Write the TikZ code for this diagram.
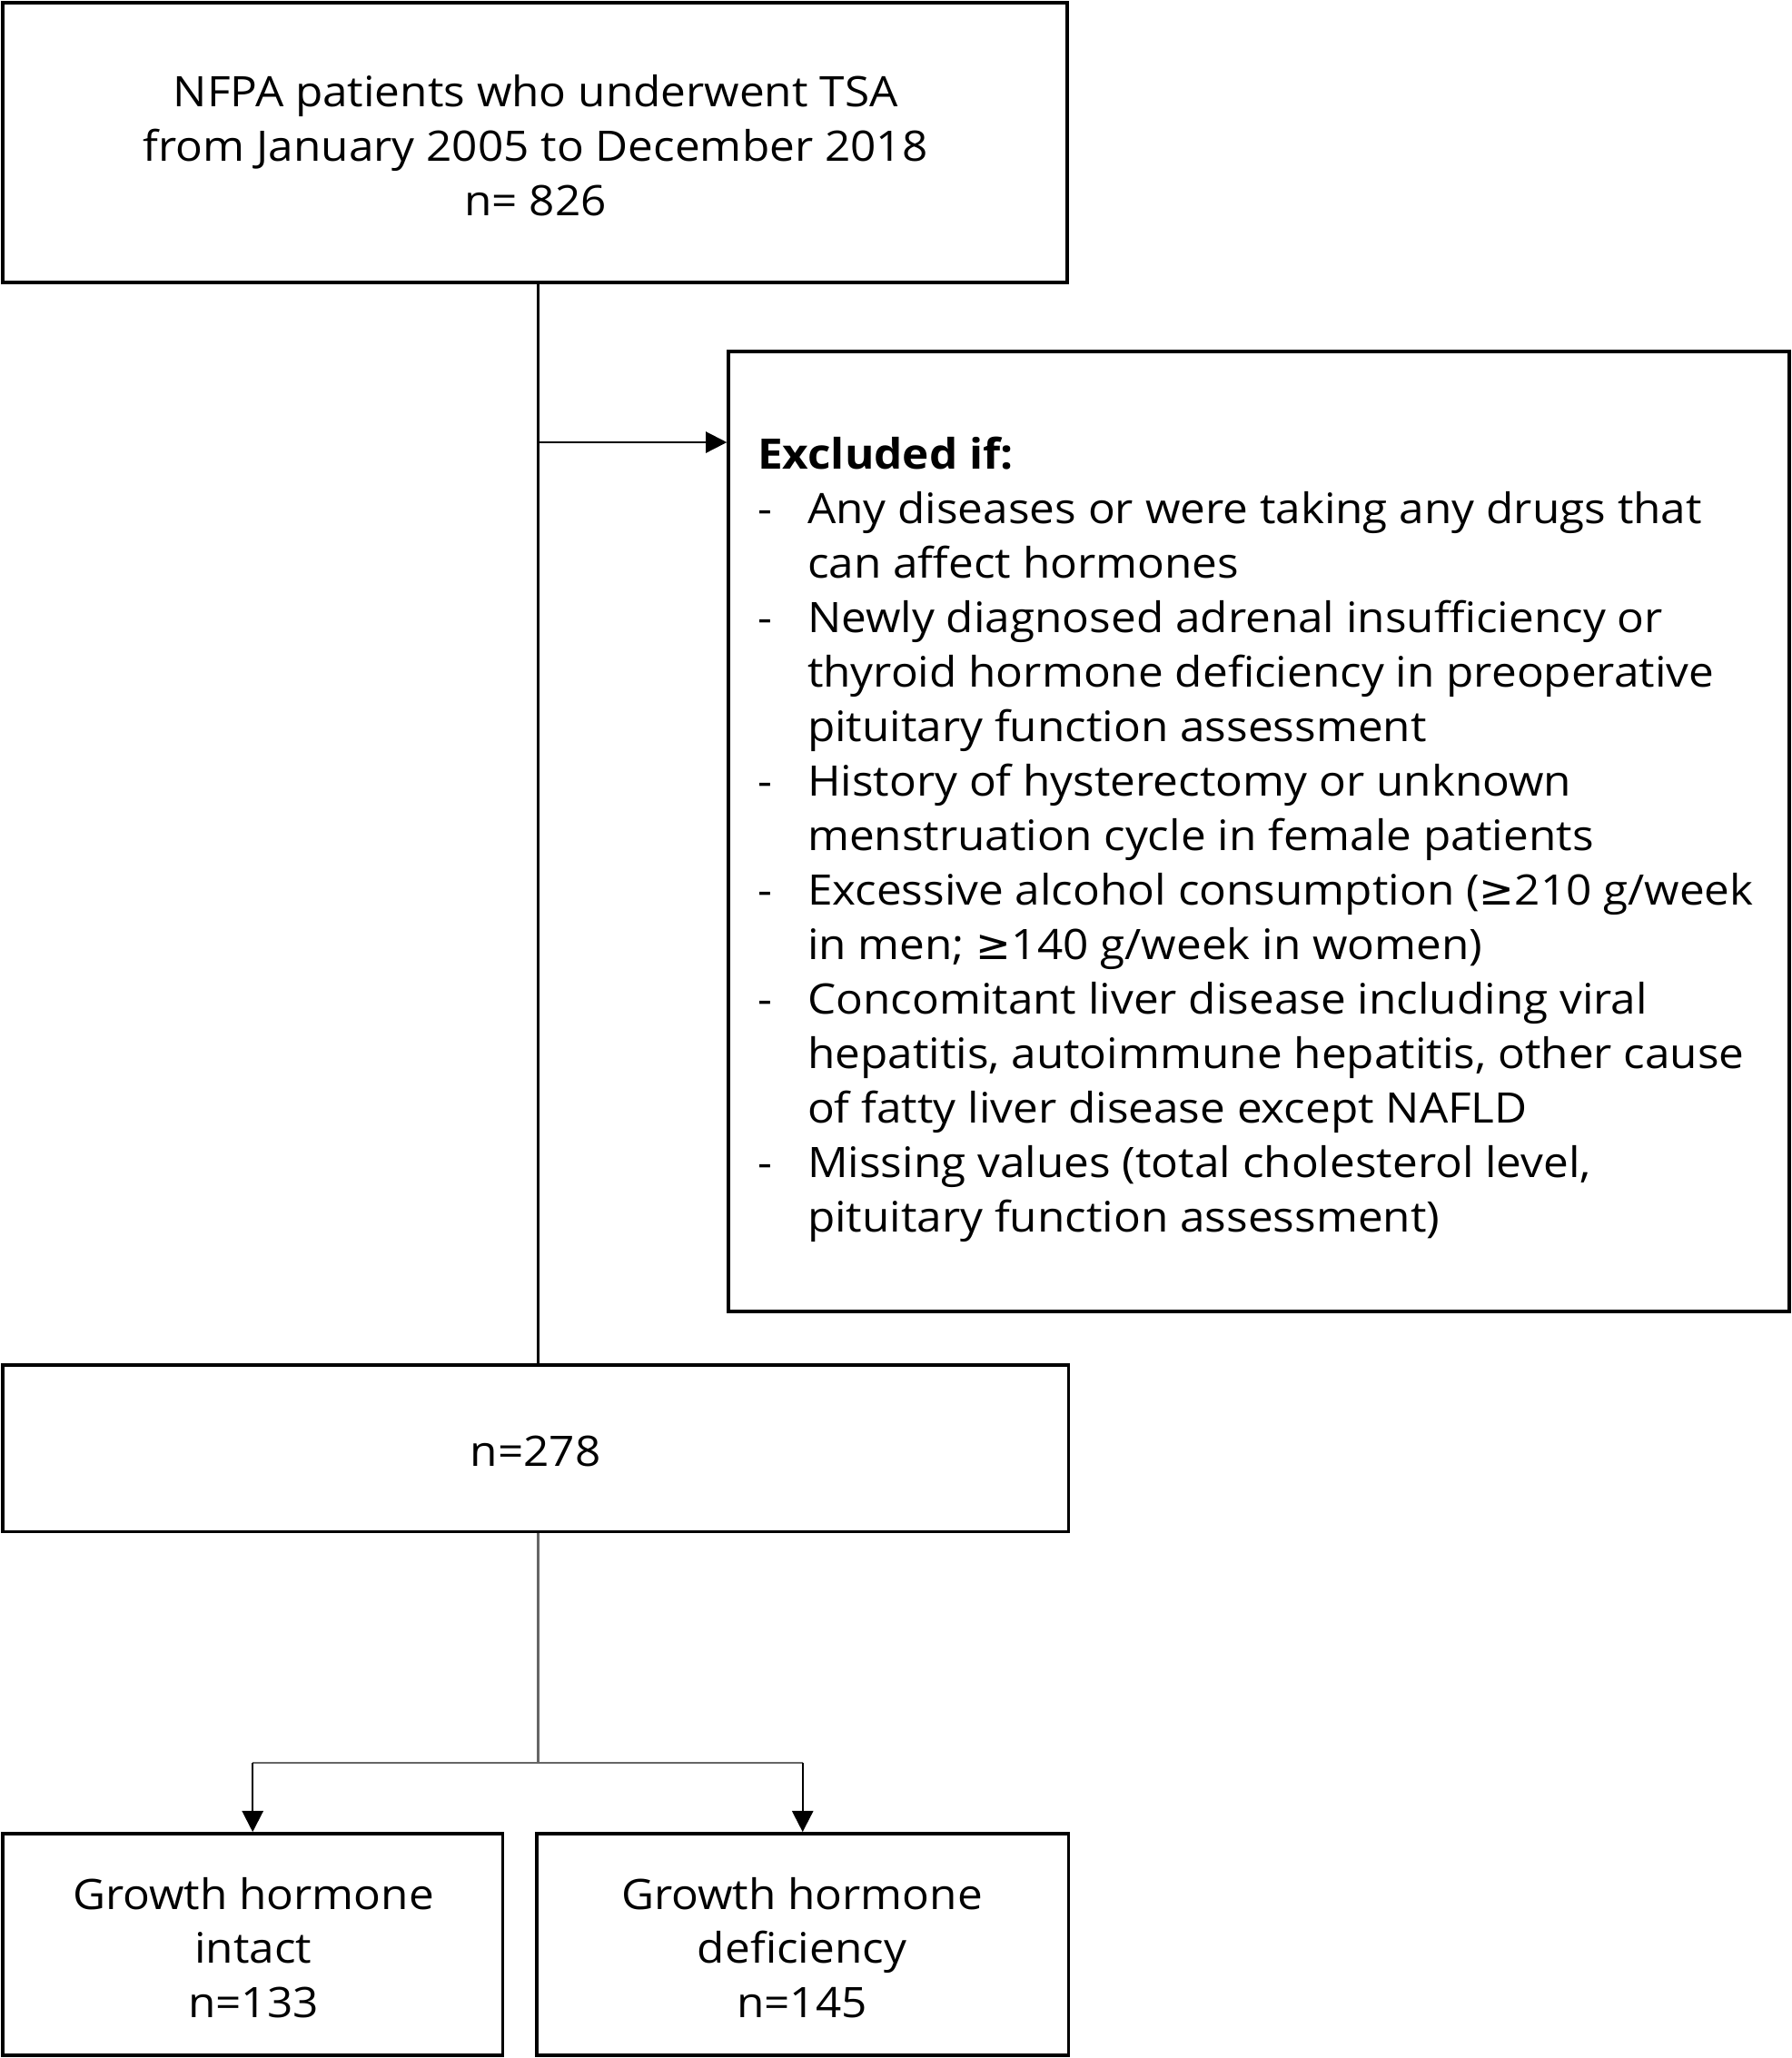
\documentclass[tikz,border=0pt]{standalone}
\usepackage{fontspec}
\setmainfont{Open Sans}[FakeStretch=1.07]
\newfontfamily\symfont{DejaVu Sans}
\usetikzlibrary{arrows.meta}
\newcommand{\gesym}{{\symfont ≥}}
\begin{document}
\begin{tikzpicture}[x=1pt,y=-1pt,
  box/.style={draw=black,line width=2.5pt,rectangle,inner sep=0pt},
  txt/.style={inner sep=0pt,align=center,font=\fontsize{32}{41.5}\selectfont},
  conn/.style={line width=1.5pt,black},
  gconn/.style={line width=1.8pt,draw=black!60},
  tip/.style={-{Triangle[length=16pt,width=16pt]}}]
\useasboundingbox (0,0) rectangle (1365,1568);
\node[box,minimum width=811pt,minimum height=213pt] (top) at (407.5,108.5) {};
\node[txt] (toptxt) at (408,111) {NFPA patients who underwent TSA\\from January 2005 to December 2018\\n= 826};
\node[box,minimum width=808pt,minimum height=731pt] (excl) at (959,633.5) {};
\node[inner sep=0pt,anchor=base west,font=\fontsize{32}{41.5}\selectfont] (excltxt) at (577,357.5) {%
\begin{tabular}[t]{@{}p{38pt}@{}l@{}}
\multicolumn{2}{@{}l@{}}{\bfseries Excluded if:}\\
- & Any diseases or were taking any drugs that\\
 & can affect hormones\\
- & Newly diagnosed adrenal insufficiency or\\
 & thyroid hormone deficiency in preoperative\\
 & pituitary function assessment\\
- & History of hysterectomy or unknown\\
 & menstruation cycle in female patients\\
- & Excessive alcohol consumption (\gesym210 g/week\\
 & in men; \gesym140 g/week in women)\\
- & Concomitant liver disease including viral\\
 & hepatitis, autoimmune hepatitis, other cause\\
 & of fatty liver disease except NAFLD\\
- & Missing values (total cholesterol level,\\
 & pituitary function assessment)
\end{tabular}};
\node[box,minimum width=812pt,minimum height=127pt] (mid) at (408,1103.5) {};
\node[txt] (midtxt) at (408,1106) {n=278};
\node[box,minimum width=381pt,minimum height=169pt] (gl) at (192.5,1481.5) {};
\node[txt] (gltxt) at (193,1484) {Growth hormone\\intact\\n=133};
\node[box,minimum width=405pt,minimum height=169pt] (gr) at (611.5,1481.5) {};
\node[txt] (grtxt) at (611,1484) {Growth hormone\\deficiency\\n=145};
\coordinate (j1) at (410,337);
\coordinate (j2) at (410,1343);
\coordinate (jl) at (gl.north |- j2);
\coordinate (jr) at (gr.north |- j2);
\draw[conn] (top.south -| j1) -- (mid.north -| j1);
\draw[conn,tip] (j1) -- (j1 -| excl.west);
\draw[gconn] (mid.south -| j2) -- (j2);
\draw[gconn] (jl) -- (jr);
\draw[conn,tip] (jl) -- (gl.north);
\draw[conn,tip] (jr) -- (gr.north);
\end{tikzpicture}
\end{document}
